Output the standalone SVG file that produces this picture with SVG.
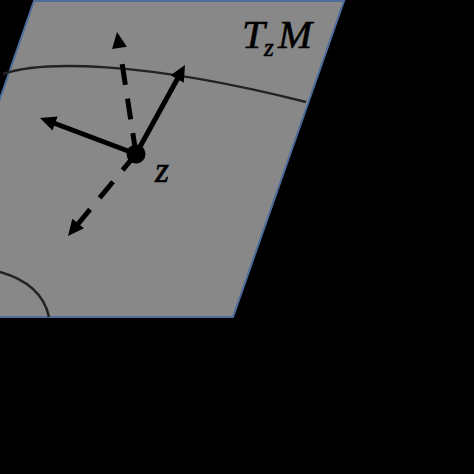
<svg xmlns="http://www.w3.org/2000/svg" xmlns:xlink="http://www.w3.org/1999/xlink" width="474" height="474" viewBox="0 0 474 474">
<style>
.shaft{stroke:#000;stroke-width:5;fill:none}
.dash1{stroke-dasharray:21 14}
.dash2{stroke-dasharray:21 15}
.curve{stroke:#222;stroke-width:2.5;fill:none}
.math{font-family:"Liberation Serif","DejaVu Serif",serif;font-style:italic;fill:#000;stroke:#000;stroke-width:0.6}
</style>
<defs>
<path id="head" d="M0,0 L-16,-7.5 L-16,7.5 z" fill="#000"/>
</defs>
<rect x="0" y="0" width="474" height="474" fill="#000"/>
<g id="plane">
<polygon points="34,1 344,1 233,317 -76,317" fill="#888888" stroke="#4d6c9c" stroke-width="2"/>
</g>
<g id="curves">
<path class="curve" d="M3,74 C40,61 140,60 306,102"/>
<path class="curve" d="M0,272 Q42,284 49,317"/>
</g>
<g id="connectors">
<path class="shaft" d="M136,154 L179,76"/>
<use xlink:href="#head" transform="translate(185,65) rotate(-60.9)"/>
<path class="shaft" d="M136,154 L51,122"/>
<use xlink:href="#head" transform="translate(40,118) rotate(-160)"/>
<path class="shaft dash1" d="M136,154 L122,63"/>
<use xlink:href="#head" transform="translate(117,32) rotate(-98.9)"/>
<path class="shaft dash2" d="M136,154 L78,224"/>
<use xlink:href="#head" transform="translate(68,236) rotate(129.3)"/>
</g>
<g id="z-point">
<circle cx="136" cy="154" r="9.5" fill="#000"/>
<text class="math" x="155" y="182" font-size="36">z</text>
</g>
<g id="label-TzM">
<text class="math" x="242" y="48" font-size="41">T</text>
<text class="math" x="264" y="56" font-size="25">z</text>
<text class="math" x="278" y="48" font-size="41">M</text>
</g>
</svg>
